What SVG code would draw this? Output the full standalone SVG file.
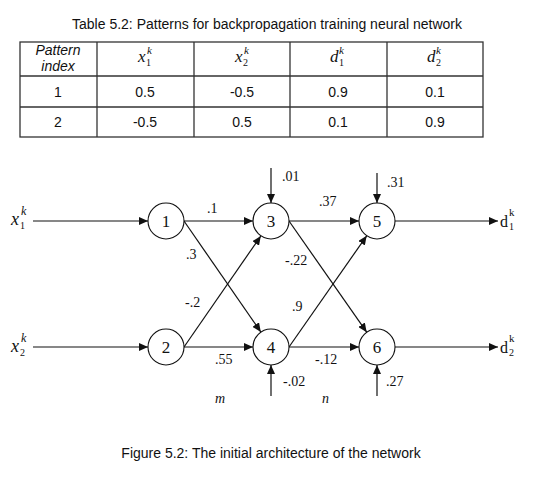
<svg xmlns="http://www.w3.org/2000/svg" width="538" height="482" viewBox="0 0 538 482">
<style>
.sans{font-family:"Liberation Sans",Arial,sans-serif;font-size:14px;fill:#111}
.ser{font-family:"Liberation Serif","Times New Roman",serif;fill:#111}
.lbl{font-size:14px}
.nd{font-size:17px}
.it{font-style:italic}
.tb{stroke:#333;stroke-width:1.3;fill:none}
.node circle{fill:#fff;stroke:#111;stroke-width:1.1}
.edge{stroke:#111;stroke-width:1.2;fill:none;marker-end:url(#ah)}
</style>
<defs>
<marker id="ah" markerUnits="userSpaceOnUse" markerWidth="10" markerHeight="8" refX="9" refY="4" orient="auto">
<path d="M0,0 L9,4 L0,8 z" fill="#111"/>
</marker>
</defs>
<rect width="538" height="482" fill="#fff"/>
<text class="sans" x="267" y="29" text-anchor="middle">Table 5.2: Patterns for backpropagation training neural network</text>
<g id="table">
<rect class="tb" x="20" y="42" width="463" height="95"/>
<line class="tb" x1="20" y1="76" x2="483" y2="76"/>
<line class="tb" x1="20" y1="107" x2="483" y2="107"/>
<line class="tb" x1="97" y1="42" x2="97" y2="137"/>
<line class="tb" x1="194" y1="42" x2="194" y2="137"/>
<line class="tb" x1="290" y1="42" x2="290" y2="137"/>
<line class="tb" x1="387" y1="42" x2="387" y2="137"/>
<text class="sans it" x="58" y="55" text-anchor="middle">Pattern</text>
<text class="sans it" x="58" y="71" text-anchor="middle">index</text>
<text class="ser it" x="138" y="62" font-size="17">x</text><text class="ser it" x="147" y="54" font-size="11">k</text><text class="ser" x="146" y="66" font-size="10">1</text>
<text class="ser it" x="235" y="62" font-size="17">x</text><text class="ser it" x="244" y="54" font-size="11">k</text><text class="ser" x="243" y="66" font-size="10">2</text>
<text class="ser it" x="330" y="62" font-size="17">d</text><text class="ser it" x="339" y="54" font-size="11">k</text><text class="ser" x="339" y="66" font-size="10">1</text>
<text class="ser it" x="427" y="62" font-size="17">d</text><text class="ser it" x="436" y="54" font-size="11">k</text><text class="ser" x="436" y="66" font-size="10">2</text>
<text class="sans" x="58" y="97" text-anchor="middle">1</text>
<text class="sans" x="145" y="97" text-anchor="middle">0.5</text>
<text class="sans" x="242" y="97" text-anchor="middle">-0.5</text>
<text class="sans" x="338" y="97" text-anchor="middle">0.9</text>
<text class="sans" x="435" y="97" text-anchor="middle">0.1</text>
<text class="sans" x="58" y="127" text-anchor="middle">2</text>
<text class="sans" x="145" y="127" text-anchor="middle">-0.5</text>
<text class="sans" x="242" y="127" text-anchor="middle">0.5</text>
<text class="sans" x="338" y="127" text-anchor="middle">0.1</text>
<text class="sans" x="435" y="127" text-anchor="middle">0.9</text>
</g>
<g id="connectors">
<line class="edge" x1="33" y1="221" x2="148" y2="221"/>
<line class="edge" x1="33" y1="347" x2="148" y2="347"/>
<line class="edge" x1="184" y1="221" x2="253" y2="221"/>
<line class="edge" x1="184" y1="347" x2="253" y2="347"/>
<line class="edge" x1="184" y1="221" x2="260.8" y2="332"/>
<line class="edge" x1="184" y1="347" x2="260.8" y2="236"/>
<line class="edge" x1="289" y1="221" x2="359" y2="221"/>
<line class="edge" x1="289" y1="347" x2="359" y2="347"/>
<line class="edge" x1="289" y1="221" x2="366.7" y2="332.2"/>
<line class="edge" x1="289" y1="347" x2="366.7" y2="235.8"/>
<line class="edge" x1="395" y1="221" x2="498" y2="221"/>
<line class="edge" x1="395" y1="347" x2="498" y2="347"/>
<line class="edge" x1="271" y1="168" x2="271" y2="203"/>
<line class="edge" x1="377" y1="173" x2="377" y2="203"/>
<line class="edge" x1="271" y1="396" x2="271" y2="365"/>
<line class="edge" x1="377" y1="396" x2="377" y2="365"/>
</g>
<g id="n1" class="node"><circle cx="166" cy="221" r="18"/><text class="ser nd" x="166" y="227" text-anchor="middle">1</text></g>
<g id="n2" class="node"><circle cx="166" cy="347" r="18"/><text class="ser nd" x="166" y="353" text-anchor="middle">2</text></g>
<g id="n3" class="node"><circle cx="271" cy="221" r="18"/><text class="ser nd" x="271" y="227" text-anchor="middle">3</text></g>
<g id="n4" class="node"><circle cx="271" cy="347" r="18"/><text class="ser nd" x="271" y="353" text-anchor="middle">4</text></g>
<g id="n5" class="node"><circle cx="377" cy="221" r="18"/><text class="ser nd" x="377" y="227" text-anchor="middle">5</text></g>
<g id="n6" class="node"><circle cx="377" cy="347" r="18"/><text class="ser nd" x="377" y="353" text-anchor="middle">6</text></g>
<g id="labels">
<text class="ser it" x="11" y="225" font-size="18">x</text><text class="ser it" x="21" y="215" font-size="12">k</text><text class="ser" x="20" y="229" font-size="10">1</text>
<text class="ser it" x="11" y="352" font-size="18">x</text><text class="ser it" x="21" y="342" font-size="12">k</text><text class="ser" x="20" y="356" font-size="10">2</text>
<text class="ser" x="500" y="227" font-size="16">d</text><text class="ser" x="509" y="216" font-size="11">k</text><text class="ser" x="509" y="230" font-size="10">1</text>
<text class="ser" x="500" y="353" font-size="16">d</text><text class="ser" x="509" y="342" font-size="11">k</text><text class="ser" x="509" y="356" font-size="10">2</text>
<text class="ser lbl" x="207" y="213">.1</text>
<text class="ser lbl" x="186" y="259">.3</text>
<text class="ser lbl" x="185" y="307">-.2</text>
<text class="ser lbl" x="215" y="364">.55</text>
<text class="ser lbl" x="282" y="181">.01</text>
<text class="ser lbl" x="387" y="187">.31</text>
<text class="ser lbl" x="319" y="206">.37</text>
<text class="ser lbl" x="285" y="265">-.22</text>
<text class="ser lbl" x="292" y="311">.9</text>
<text class="ser lbl" x="315" y="364">-.12</text>
<text class="ser lbl" x="283" y="386">-.02</text>
<text class="ser lbl" x="386" y="386">.27</text>
<text class="ser lbl it" x="215" y="403">m</text>
<text class="ser lbl it" x="322" y="403">n</text>
</g>
<text class="sans" x="271" y="458" text-anchor="middle">Figure 5.2: The initial architecture of the network</text>
</svg>
